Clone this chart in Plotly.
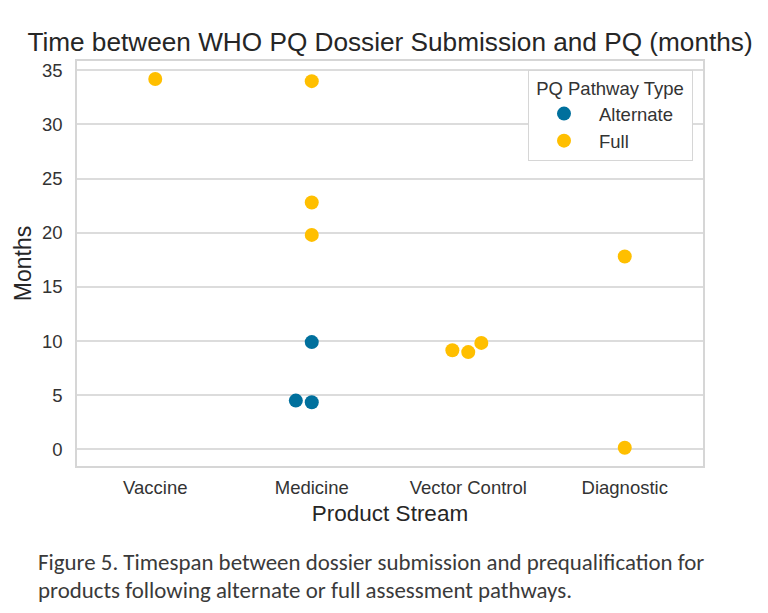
import numpy as np
import plotly.graph_objects as go

# ---- data ----
categories = ["Vaccine", "Medicine", "Vector Control", "Diagnostic"]
series_names = ["Alternate", "Full"]
alternate_values = {
    "Medicine": [9.9, 4.5, 4.35],
}
full_values = {
    "Vaccine": [34.2],
    "Medicine": [34.0, 22.8, 19.8],
    "Vector Control": [9.15, 8.98, 9.83],
    "Diagnostic": [17.8, 0.15],
}
y_ticks = [0, 5, 10, 15, 20, 25, 30, 35]

# ---- layout geometry ----
W, H = 768, 613
OFF = 8  # page body margin compensation
ML, MR, MT, MB = 77, 65, 61, 147
Y_RANGE = [-1.54, 35.86]
X_RANGE = [-0.5, 3.5]
plot_w = W - ML - MR
plot_h = H - MT - MB
px_per_x = plot_w / (X_RANGE[1] - X_RANGE[0])
px_per_y = plot_h / (Y_RANGE[1] - Y_RANGE[0])
MARKER = 14
SPACING = 16  # center-to-center distance in px

COL_ALT = "#00709d"
COL_FULL = "#ffbf00"


def swarm(values):
    """Simple beeswarm: returns horizontal pixel offsets for values."""
    order = np.argsort(values, kind="stable")
    placed = []  # (xoff_px, y_px)
    offsets = [0.0] * len(values)
    for i in order:
        yp = values[i] * px_per_y
        cands = [0.0]
        for (xo, yo) in placed:
            dy = abs(yp - yo)
            if dy < SPACING:
                dx = np.sqrt(SPACING ** 2 - dy ** 2)
                cands += [xo - dx, xo + dx]
        cands = sorted(cands, key=lambda c: (round(abs(c), 6), c > 0))
        chosen = 0.0
        for c in cands:
            ok = all((c - xo) ** 2 + (yp - yo) ** 2 >= SPACING ** 2 - 1e-6 for (xo, yo) in placed)
            if ok:
                chosen = c
                break
        placed.append((chosen, yp))
        offsets[i] = chosen
    return offsets


traces = {"Alternate": ([], []), "Full": ([], [])}
for ci, cat in enumerate(categories):
    vals, labels = [], []
    for v in alternate_values.get(cat, []):
        vals.append(v); labels.append("Alternate")
    for v in full_values.get(cat, []):
        vals.append(v); labels.append("Full")
    if not vals:
        continue
    offs = swarm(vals)
    for v, lab, o in zip(vals, labels, offs):
        traces[lab][0].append(ci + o / px_per_x)
        traces[lab][1].append(v)

fig = go.Figure()
for name, col in zip(series_names, [COL_ALT, COL_FULL]):
    xs, ys = traces[name]
    fig.add_trace(go.Scatter(
        x=xs, y=ys, mode="markers", name=name,
        marker=dict(size=MARKER, color=col, line=dict(width=0)),
    ))

FONT = "Liberation Sans, Arial, sans-serif"
TXT = "#333333"
GRID = "#dcdcdc"

fig.update_layout(
    width=W, height=H,
    margin=dict(l=ML - OFF, r=MR + OFF, t=MT - OFF, b=MB + OFF, autoexpand=False),
    paper_bgcolor="white", plot_bgcolor="white",
    font=dict(family=FONT, color=TXT, size=18),
    title=dict(
        text="Time between WHO PQ Dossier Submission and PQ (months)",
        x=(390 - OFF) / W, xanchor="center", xref="container",
        y=1 - (42 - OFF) / H, yanchor="middle", yref="container",
        font=dict(size=26.2, color="#262626"),
    ),
    showlegend=True,
    legend=dict(
        title=dict(text=" PQ Pathway Type ", font=dict(size=18.5)),
        x=(693 - ML) / plot_w, xanchor="right",
        y=(H - MB - 70) / plot_h, yanchor="top",
        bgcolor="white", bordercolor="#d6d6d6", borderwidth=1,
        font=dict(size=18.5),
        itemwidth=60,
    ),
    xaxis=dict(
        range=X_RANGE, tickmode="array",
        tickvals=list(range(len(categories))), ticktext=categories,
        showgrid=False, zeroline=False,
        showline=True, mirror=True, linecolor="#d6d6d6", linewidth=1.5,
        ticks="", tickfont=dict(size=18.5, color=TXT), ticklabelstandoff=4,
        title=dict(text="Product Stream", font=dict(size=22.5, color="#262626"), standoff=8),
    ),
    yaxis=dict(
        range=Y_RANGE, tickmode="array", tickvals=y_ticks,
        showgrid=True, gridcolor=GRID, gridwidth=1.5, zeroline=False,
        showline=True, mirror=True, linecolor="#d6d6d6", linewidth=1.5,
        ticks="", tickfont=dict(size=18.5, color=TXT), ticklabelstandoff=9,
        title=dict(text="Months", font=dict(size=23, color="#262626"), standoff=4),
    ),
)

caption_lines = [
    "Figure 5. Timespan between dossier submission and prequalification for",
    "products following alternate or full assessment pathways.",
]
for i, line in enumerate(caption_lines):
    fig.add_annotation(
        text=line, xref="paper", yref="paper",
        x=(36 - ML) / plot_w, xanchor="left",
        y=(H - MB - (562 + 28 * i)) / plot_h, yanchor="middle",
        showarrow=False,
        font=dict(family="Carlito, Calibri, Lato, sans-serif", size=22.9, color="#3a3a3a"),
    )

fig.write_html("out.html")
